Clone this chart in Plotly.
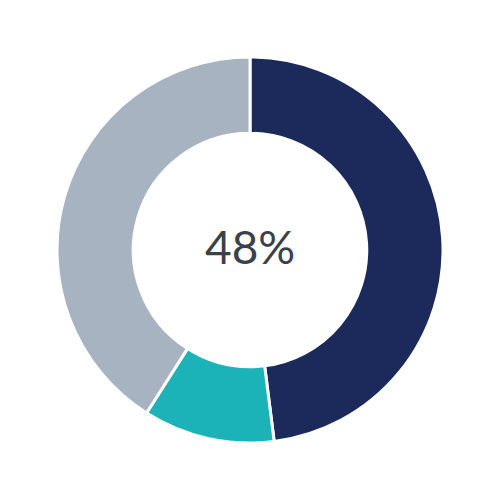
import plotly.graph_objects as go

labels = ["A", "B", "C"]
values = [48, 11, 41]
colors = ["#1b2a5b", "#1bb3b8", "#a8b3c2"]
center_text = "48%"

fig = go.Figure(go.Pie(
    labels=labels,
    values=values,
    hole=0.605,
    sort=False,
    direction="clockwise",
    rotation=0,
    marker=dict(colors=colors, line=dict(color="white", width=3)),
    textinfo="none",
    hoverinfo="none",
    showlegend=False,
))
fig.add_annotation(text=center_text, x=0.5, y=0.5, xref="paper", yref="paper",
                   yshift=4, showarrow=False,
                   font=dict(family="Lato", size=46, color="#3b414a"))
fig.update_layout(width=500, height=500, margin=dict(l=49, r=65, t=49, b=65),
                  paper_bgcolor="white", plot_bgcolor="white")
fig.write_html("out.html")
